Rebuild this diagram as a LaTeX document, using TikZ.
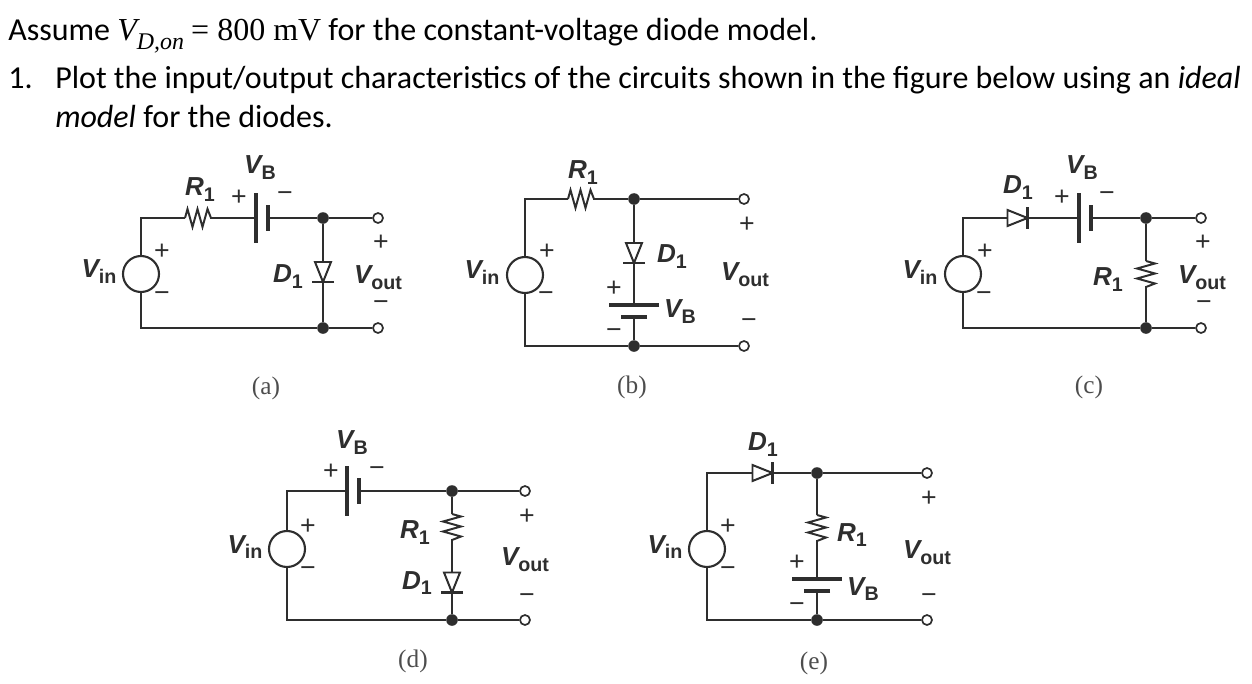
\documentclass[tikz,border=0pt]{standalone}
\usepackage{fontspec}
\setmainfont{Carlito}
\newfontfamily\labfont{Liberation Sans}
\newfontfamily\capfont{Liberation Serif}
\usepackage{tikz}
\usetikzlibrary{calc}
\usetikzlibrary{positioning}

\definecolor{ink}{HTML}{2E2E2E}
\newcommand{\vlab}[2]{{\labfont\bfseries\fontsize{18.5}{18}\selectfont\itshape #1}\raisebox{-.42em}{\labfont\bfseries\fontsize{14}{14}\selectfont #2}}

\tikzset{
  wire/.style={draw=ink,line width=1.4pt},
  plate/.style={draw=ink,line width=2.5pt},
  srcnode/.style={circle,draw=ink,line width=1.5pt,minimum size=0.9cm,inner sep=0pt},
  termnode/.style={circle,draw=ink,line width=1.2pt,fill=white,minimum size=0.25cm,inner sep=0pt},
  dotnode/.style={circle,fill=ink,minimum size=0.29cm,inner sep=0pt},
  lab/.style={text=ink,inner sep=0pt},
  sgn/.style={text=ink,inner sep=0pt,font=\labfont\fontsize{19}{19}\selectfont},
  capt/.style={text=ink!85,inner sep=0pt,font=\capfont\fontsize{18}{18}\selectfont},
  para/.style={anchor=base west,inner sep=0pt,font=\fontsize{22.75}{26}\selectfont},
  resh/.pic={
    \coordinate (-w) at (-14,0);
    \coordinate (-e) at (14,0);
    \draw[wire] (-14,0) -- (-11.5,-9) -- (-6.5,9) -- (-1.5,-9) -- (3.5,9) -- (8.5,-9) -- (12,0) -- (14,0);
  },
  dio/.pic={
    \coordinate (-w) at (-10,0);
    \coordinate (-e) at (10,0);
    \draw[wire] (-10,-8) -- (-10,8) -- (10,0) -- cycle;
    \draw[plate,line width=1.9pt] (10,-11) -- (10,11);
  },
  batt/.pic={
    \coordinate (-w) at (-6,0);
    \coordinate (-e) at (6,0);
    \draw[plate] (-6,-25) -- (-6,25);
    \draw[plate] (6,-13) -- (6,13);
  }
}

\begin{document}
\begin{tikzpicture}[x=0.025cm,y=-0.025cm]
\useasboundingbox (0,0) rectangle (1252,684);

% text above the figure
\node[para] (line1) at (8,40) {Assume {\capfont\itshape V}\raisebox{-.3em}{\capfont\itshape\fontsize{17}{17}\selectfont D,on} {\capfont = 800 mV} for the constant-voltage diode model.};
\node[para] (num) at (8,88) {1.};
\node[para] (line2) at (55,88) {Plot the input/output characteristics of the circuits shown in the figure below using an \textit{ideal}};
\node[para] (line3) at (55,127) {\textit{model} for the diodes.};

% circuit a
\node[srcnode] (sa) at (141,274) {};
\pic (ra) at (199,218) {resh};
\pic (ba) at (262,218) {batt};
\pic[rotate=-90] (da) at (323,272) {dio};
\node[dotnode] (ja1) at (323,218) {};
\node[dotnode] (ja2) at (323,328) {};
\node[termnode] (ta1) at (378,218) {};
\node[termnode] (ta2) at (378,328) {};
\draw[wire] (sa.north) |- (ra-w);
\draw[wire] (ra-e) -- (ba-w);
\draw[wire] (ba-e) -- (ja1) -- (ta1);
\draw[wire] (ja1) -- (da-w);
\draw[wire] (da-e) -- (ja2);
\draw[wire] (sa.south) |- (ja2) -- (ta2);
\node[lab] (vina) at (99,272) {\vlab{V}{in}};
\node[lab] (rla) at (200,190) {\vlab{R}{1}};
\node[lab] (vba) at (260,168) {\vlab{V}{B}};
\node[lab] (dla) at (288,277) {\vlab{D}{1}};
\node[lab] (voa) at (378,278) {\vlab{V}{out}};
\node[capt] (capa) at (266,388) {(a)};
\foreach \n/\x/\y in {1/162/252,2/239/198,3/381/243}
  \node[sgn] (pa\n) at (\x,\y) {+};
\foreach \n/\x/\y in {1/162/297,2/285/197,3/381/306}
  \node[sgn] (ma\n) at (\x,\y) {\textminus};

% circuit b
\node[srcnode] (sb) at (525,275) {};
\pic (rb) at (582,199) {resh};
\pic[rotate=-90] (db) at (634,253) {dio};
\pic[rotate=-90] (bb) at (634,311) {batt};
\node[dotnode] (jb1) at (634,199) {};
\node[dotnode] (jb2) at (634,346) {};
\node[termnode] (tb1) at (744,199) {};
\node[termnode] (tb2) at (744,346) {};
\draw[wire] (sb.north) |- (rb-w);
\draw[wire] (rb-e) -- (jb1) -- (tb1);
\draw[wire] (jb1) -- (db-w);
\draw[wire] (db-e) -- (bb-w);
\draw[wire] (bb-e) -- (jb2);
\draw[wire] (sb.south) |- (jb2) -- (tb2);
\node[lab] (vinb) at (482,273) {\vlab{V}{in}};
\node[lab] (rlb) at (583,173) {\vlab{R}{1}};
\node[lab] (dlb) at (672,257) {\vlab{D}{1}};
\node[lab] (vob) at (745,275) {\vlab{V}{out}};
\node[lab] (vbb) at (680,312) {\vlab{V}{B}};
\node[capt] (capb) at (632,387) {(b)};
\foreach \n/\x/\y in {1/547/252,2/614/289,3/747/225}
  \node[sgn] (pb\n) at (\x,\y) {+};
\foreach \n/\x/\y in {1/546/297,2/614/334,3/749/324}
  \node[sgn] (mb\n) at (\x,\y) {\textminus};

% circuit c
\node[srcnode] (sc) at (963,274) {};
\pic (dc) at (1017.5,218) {dio};
\pic (bc) at (1085,218) {batt};
\pic[rotate=-90] (rc) at (1146,275) {resh};
\node[dotnode] (jc1) at (1146,218) {};
\node[dotnode] (jc2) at (1146,328) {};
\node[termnode] (tc1) at (1201,218) {};
\node[termnode] (tc2) at (1201,328) {};
\draw[wire] (sc.north) |- (dc-w);
\draw[wire] (dc-e) -- (bc-w);
\draw[wire] (bc-e) -- (jc1) -- (tc1);
\draw[wire] (jc1) -- (rc-w);
\draw[wire] (rc-e) -- (jc2);
\draw[wire] (sc.south) |- (jc2) -- (tc2);
\node[lab] (vinc) at (920,273) {\vlab{V}{in}};
\node[lab] (dlc) at (1018,188) {\vlab{D}{1}};
\node[lab] (vbc) at (1082,168) {\vlab{V}{B}};
\node[lab] (rlc) at (1108,280) {\vlab{R}{1}};
\node[lab] (voc) at (1202,278) {\vlab{V}{out}};
\node[capt] (capc) at (1089,387) {(c)};
\foreach \n/\x/\y in {1/985/252,2/1062/198,3/1203/243}
  \node[sgn] (pc\n) at (\x,\y) {+};
\foreach \n/\x/\y in {1/984/297,2/1107/197,3/1204/306}
  \node[sgn] (mc\n) at (\x,\y) {\textminus};

% circuit d
\node[srcnode] (sd) at (287,549) {};
\pic (bd) at (353,491) {batt};
\pic[rotate=-90] (rd) at (452,528) {resh};
\pic[rotate=-90] (dd) at (452,582.5) {dio};
\node[dotnode] (jd1) at (452,491) {};
\node[dotnode] (jd2) at (452,620) {};
\node[termnode] (td1) at (525,491) {};
\node[termnode] (td2) at (525,620) {};
\draw[wire] (sd.north) |- (bd-w);
\draw[wire] (bd-e) -- (jd1) -- (td1);
\draw[wire] (jd1) -- (rd-w);
\draw[wire] (rd-e) -- (dd-w);
\draw[wire] (dd-e) -- (jd2);
\draw[wire] (sd.south) |- (jd2) -- (td2);
\node[lab] (vind) at (245,547) {\vlab{V}{in}};
\node[lab] (vbd) at (352,443) {\vlab{V}{B}};
\node[lab] (rld) at (415,533) {\vlab{R}{1}};
\node[lab] (dld) at (417,583) {\vlab{D}{1}};
\node[lab] (vod) at (525,560) {\vlab{V}{out}};
\node[capt] (capd) at (413,661) {(d)};
\foreach \n/\x/\y in {1/308/527,2/331/472,3/527/517}
  \node[sgn] (pd\n) at (\x,\y) {+};
\foreach \n/\x/\y in {1/308/572,2/377/472,3/527/599}
  \node[sgn] (md\n) at (\x,\y) {\textminus};

% circuit e
\node[srcnode] (se) at (707,549) {};
\pic (de) at (762.5,473) {dio};
\pic[rotate=-90] (re) at (817,529) {resh};
\pic[rotate=-90] (be) at (817,585) {batt};
\node[dotnode] (je1) at (817,473) {};
\node[dotnode] (je2) at (817,620) {};
\node[termnode] (te1) at (927,473) {};
\node[termnode] (te2) at (927,620) {};
\draw[wire] (se.north) |- (de-w);
\draw[wire] (de-e) -- (je1) -- (te1);
\draw[wire] (je1) -- (re-w);
\draw[wire] (re-e) -- (be-w);
\draw[wire] (be-e) -- (je2);
\draw[wire] (se.south) |- (je2) -- (te2);
\node[lab] (vine) at (665,547) {\vlab{V}{in}};
\node[lab] (dle) at (763,445) {\vlab{D}{1}};
\node[lab] (rle) at (852,535) {\vlab{R}{1}};
\node[lab] (vbe) at (863,589) {\vlab{V}{B}};
\node[lab] (voe) at (927,553) {\vlab{V}{out}};
\node[capt] (cape) at (814,663) {(e)};
\foreach \n/\x/\y in {1/728/527,2/797/563,3/929/499}
  \node[sgn] (pe\n) at (\x,\y) {+};
\foreach \n/\x/\y in {1/728/572,2/797/608,3/929/599}
  \node[sgn] (me\n) at (\x,\y) {\textminus};
\end{tikzpicture}
\end{document}
